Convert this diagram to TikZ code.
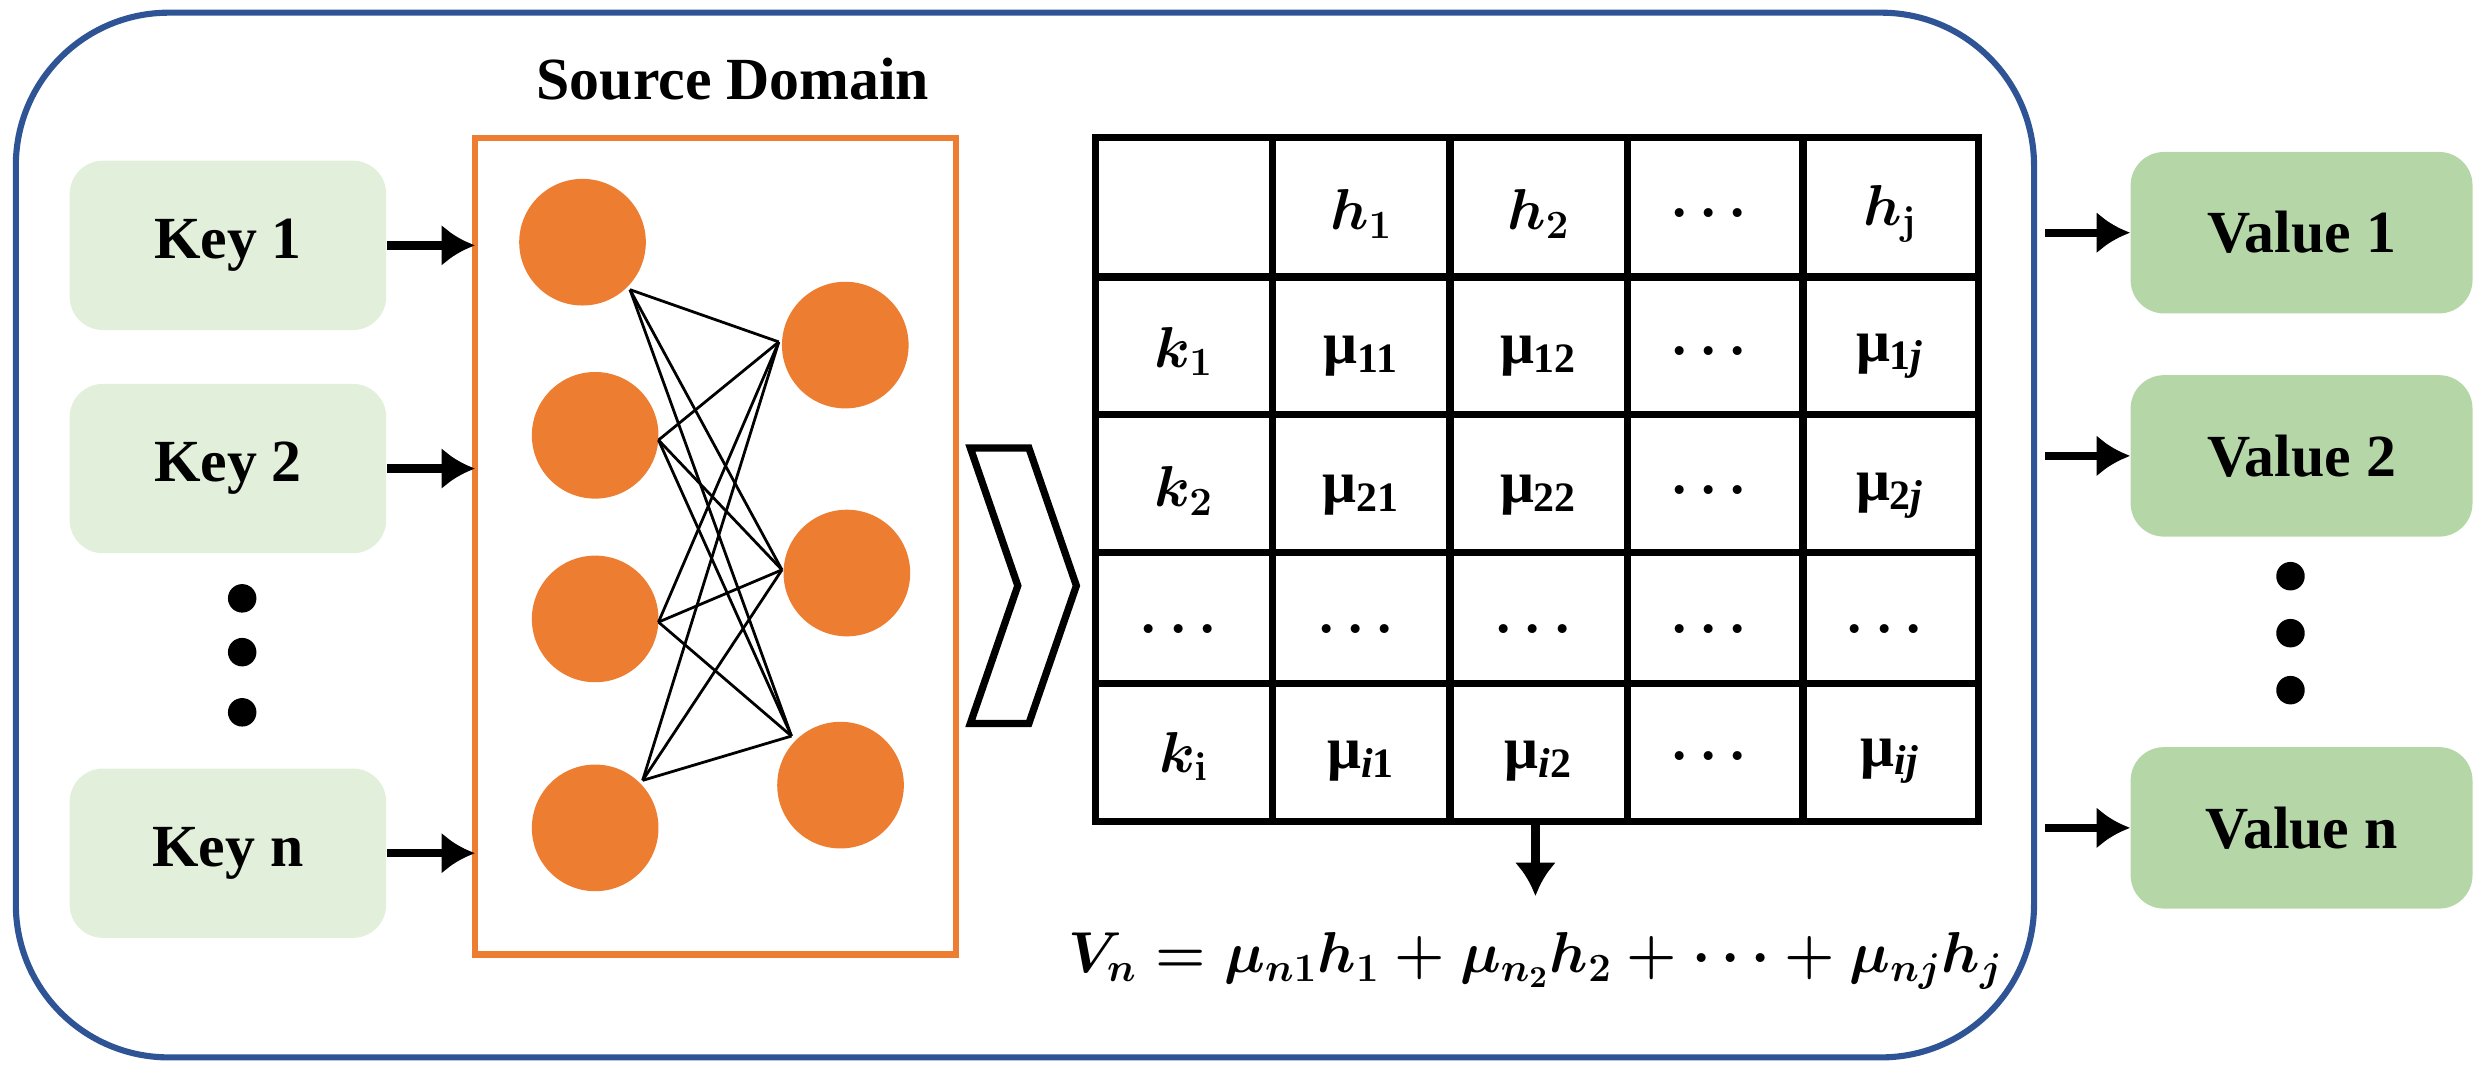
\documentclass[tikz,border=0pt]{standalone}
\usepackage{amsmath,bm}
\usepackage{fontspec}
\setmainfont{Liberation Serif}
\usetikzlibrary{arrows.meta}
\begin{document}
\begin{tikzpicture}[x=0.02cm,y=-0.02cm,
  txt/.style={font=\fontsize{21.5}{25}\selectfont\bfseries\boldmath},
  key/.style={fill=keyg,rounded corners=12pt,minimum width=200*0.02cm,minimum height=107*0.02cm,txt},
  val/.style={fill=valg,rounded corners=12pt,minimum width=216*0.02cm,minimum height=102*0.02cm,txt},
  neu/.style={circle,fill=orng,minimum size=80*0.02cm,inner sep=0},
  arr/.style={-{Latex[length=12pt,width=15pt]},line width=3pt},
  dot/.style={circle,fill=black,minimum size=18*0.02cm,inner sep=0}]
\definecolor{keyg}{RGB}{226,239,218}
\definecolor{valg}{RGB}{181,215,168}
\definecolor{orng}{RGB}{237,125,49}
\definecolor{bluec}{RGB}{47,84,150}
\useasboundingbox (0,0) rectangle (1568,683);
\draw[bluec,line width=2.2pt,rounded corners=55pt] (10,8) rectangle (1285,668);
\node[txt] (sd) at (463,50) {Source Domain};
\draw[orng,line width=2.2pt] (300,87) rectangle (604,603);
\node[key] (k1) at (144,155) {Key 1};
\node[key] (k2) at (144,296) {Key 2};
\node[key] (kn) at (144,539) {Key n};
\node[dot] (d1) at (153,378) {};\node[dot] (d2) at (153,412) {};\node[dot] (d3) at (153,450) {};
\coordinate (e1) at (300,155);\coordinate (e2) at (300,296);\coordinate (e3) at (300,539);
\draw[arr] (k1.east) -- (e1);\draw[arr] (k2.east) -- (e2);\draw[arr] (kn.east) -- (e3);
\node[neu] (l1) at (368,153) {};\node[neu] (l2) at (376,275) {};
\node[neu] (l3) at (376,391) {};\node[neu] (l4) at (376,523) {};
\node[neu] (r1) at (534,218) {};\node[neu] (r2) at (535,362) {};\node[neu] (r3) at (531,496) {};
\coordinate (a1) at (398,183);\coordinate (a2) at (416,278);\coordinate (a3) at (416,393);\coordinate (a4) at (406,493);
\coordinate (b1) at (492,216);\coordinate (b2) at (494,360);\coordinate (b3) at (500,465);
\foreach \a in {a1,a2,a3,a4}{\foreach \b in {b1,b2,b3}{\draw[line width=1pt] (\a) -- (\b);}}
\draw[line width=2.6pt,fill=white] (613,283) -- (650,283) -- (680,370) -- (650,457) -- (613,457) -- (643,370) -- cycle;
% table
\draw[line width=2.6pt] (692,87) rectangle (1250,519);
\foreach \x in {804,916,1028,1139}{\draw[line width=2.6pt] (\x,87) -- (\x,519);}
\foreach \y in {175,262,349,432}{\draw[line width=2.6pt] (692,\y) -- (1250,\y);}
\tikzset{c/.style={txt}}
\node[c] (h1) at (860,135) {$\bm{h}_{\bm 1}$};
\node[c] (h2) at (972,135) {$\bm{h}_{\bm 2}$};
\node[c] (h3) at (1083,135) {$\bm\cdots$};
\node[c] (h4) at (1194,135) {$\bm{h}_{\mathbf j}$};
\node[c] (k1t) at (748,222) {$\bm{k}_{\bm 1}$};
\node[c] (m11) at (860,225) {μ\textsubscript{11}};
\node[c] (m12) at (972,225) {μ\textsubscript{12}};
\node[c] (m13) at (1083,222) {$\bm\cdots$};
\node[c] (m14) at (1194,225) {μ\textsubscript{1\textit{j}}};
\node[c] (k2t) at (748,310) {$\bm{k}_{\bm 2}$};
\node[c] (m21) at (860,313) {μ\textsubscript{21}};
\node[c] (m22) at (972,313) {μ\textsubscript{22}};
\node[c] (m23) at (1083,310) {$\bm\cdots$};
\node[c] (m24) at (1194,313) {μ\textsubscript{2\textit{j}}};
\foreach \x/\n in {748/a,860/b,972/c,1083/d,1194/e}{\node[c] (dd\n) at (\x,398) {$\bm\cdots$};}
\node[c] (kit) at (748,478) {$\bm{k}_{\mathbf i}$};
\node[c] (mi1) at (860,481) {μ\textsubscript{\textit{i}1}};
\node[c] (mi2) at (972,481) {μ\textsubscript{\textit{i}2}};
\node[c] (mi3) at (1083,478) {$\bm\cdots$};
\node[c] (mi4) at (1194,481) {μ\textsubscript{\textit{ij}}};
\coordinate (t0) at (970,519);
\node[txt] (form) at (970,607) {$\bm{V_n=\mu_{n1}h_1+\mu_{n_2}h_2+\cdots+\mu_{nj}h_j}$};
\draw[arr] (t0) -- (970,566);
\node[val] (v1) at (1454,147) {Value 1};
\node[val] (v2) at (1454,288) {Value 2};
\node[val] (vn) at (1454,523) {Value n};
\coordinate (f1) at (1292,147);\coordinate (f2) at (1292,288);\coordinate (f3) at (1292,523);
\draw[arr] (f1) -- (v1.west);\draw[arr] (f2) -- (v2.west);\draw[arr] (f3) -- (vn.west);
\node[dot] (g1) at (1447,364) {};\node[dot] (g2) at (1447,400) {};\node[dot] (g3) at (1447,436) {};
\end{tikzpicture}
\end{document}
